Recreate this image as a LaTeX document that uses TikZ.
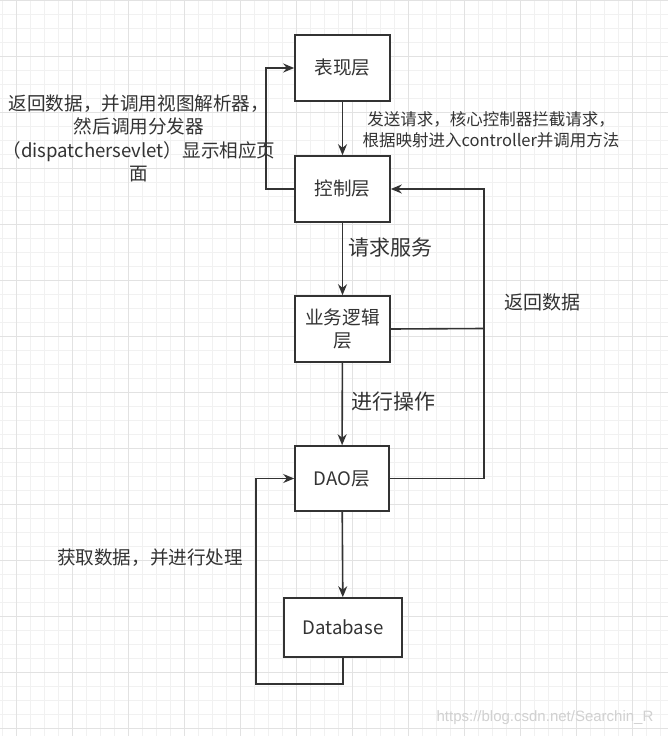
\documentclass[tikz,border=0pt]{standalone}
\usepackage{fontspec}
\setmainfont{Noto Sans CJK SC}
\newfontfamily\markfont{Liberation Sans}
\usetikzlibrary{arrows.meta}

\definecolor{linegray}{HTML}{333333}
\definecolor{gridminor}{HTML}{F1F1F1}
\definecolor{gridmajor}{HTML}{E2E2E2}

\tikzset{
  layer/.style={draw=linegray, line width=1.6pt, fill=white, text=linegray,
    minimum width=95pt, minimum height=66pt, align=center, inner sep=2pt,
    font=\fontsize{18.6}{23}\selectfont},
  link/.style={draw=linegray, line width=1.6pt},
  flow/.style={link, -{Stealth[length=11pt,width=9pt]}},
  note/.style={text=linegray, align=center, inner sep=0pt},
}

\begin{document}
\begin{tikzpicture}[x=1pt,y=-1pt]
  \useasboundingbox[fill=white] (0,0) rectangle (668,736);
  % background grid
  \foreach \k in {0,...,47}
    \draw[gridminor, line width=0.8pt] (2.7+14*\k,0) -- (2.7+14*\k,736);
  \foreach \k in {0,...,52}
    \draw[gridminor, line width=0.8pt] (0,0.7+14*\k) -- (668,0.7+14*\k);
  \foreach \k in {0,...,11}
    \draw[gridmajor, line width=0.8pt] (16.7+56*\k,0) -- (16.7+56*\k,736);
  \foreach \k in {0,...,13}
    \draw[gridmajor, line width=0.8pt] (0,0.7+56*\k) -- (668,0.7+56*\k);

  % layers
  \node[layer] (view) at (342.5,68) {表现层};
  \node[layer] (ctrl) at (342.5,189) {控制层};
  \node[layer] (biz) at (342.5,329) {业务逻辑\\层};
  \node[layer, minimum width=94pt, minimum height=65pt] (dao) at (342,478.5) {DAO层};
  \node[layer, minimum width=118pt, minimum height=59pt] (db) at (343,627.5) {Database};

  % connectors
  \draw[flow] (view) -- (ctrl);
  \draw[flow] (ctrl) -- (biz);
  \draw[flow] (biz) -- (dao);
  \draw[flow] (dao) -- (db);
  \draw[flow] (ctrl.west) -- ++(-28,0) |- (view.west);
  \coordinate (rjoin) at (484,328.5);
  \draw[flow] (biz.east) -- (rjoin) |- (ctrl.east);
  \draw[link] (dao.east) -| (rjoin);
  \coordinate (lbend) at (256,684);
  \draw[flow] (db.south) |- (lbend) |- (dao.west);

  % labels
  \node[note, font=\fontsize{18.6}{23.3}\selectfont] (backtxt) at (139,138.5)
    {返回数据，并调用视图解析器，\\然后调用分发器\\（dispatchersevlet）显示相应页\\面};
  \node[note, font=\fontsize{16.5}{21}\selectfont] (sendtxt) at (491,130)
    {发送请求，核心控制器拦截请求，\\根据映射进入controller并调用方法};
  \node[note, font=\fontsize{21}{25}\selectfont] (reqtxt) at (390,248) {请求服务};
  \node[note, font=\fontsize{19}{23}\selectfont] (rettxt) at (542,302) {返回数据};
  \node[note, font=\fontsize{21}{25}\selectfont] (optxt) at (393,402) {进行操作};
  \node[note, font=\fontsize{18.6}{23}\selectfont] (gettxt) at (150,558) {获取数据，并进行处理};
  \node[text=black!18, inner sep=0pt, font=\markfont\fontsize{15}{18}\selectfont] (mark) at (545,718)
    {https://blog.csdn.net/Searchin\_R};
\end{tikzpicture}
\end{document}
